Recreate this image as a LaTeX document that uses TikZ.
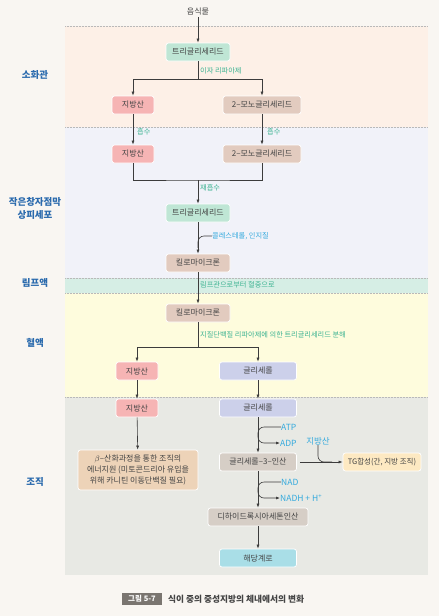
\documentclass[tikz,border=0pt]{standalone}
\usepackage{fontspec}
\setmainfont{Noto Sans CJK KR}
\usetikzlibrary{arrows.meta}
\definecolor{bg}{HTML}{F9F6F2}
\definecolor{bandA}{HTML}{FDF0E7}
\definecolor{bandB}{HTML}{F1F2F9}
\definecolor{bandC}{HTML}{D6EEE5}
\definecolor{bandD}{HTML}{FEFCDD}
\definecolor{bandE}{HTML}{E8E9E4}
\definecolor{cMint}{HTML}{BFE6D5}
\definecolor{cPink}{HTML}{F6B4B4}
\definecolor{cTan}{HTML}{E2CBBF}
\definecolor{cLav}{HTML}{CCD0EA}
\definecolor{cBeta}{HTML}{EDD3B8}
\definecolor{cGrey}{HTML}{D6CEC6}
\definecolor{cTG}{HTML}{FDE9C2}
\definecolor{cCyan}{HTML}{A9DEE7}
\definecolor{lblGreen}{HTML}{3DB392}
\definecolor{lblBlue}{HTML}{33A9DD}
\definecolor{regBlue}{HTML}{2A6AAD}
\definecolor{txt}{HTML}{444444}
\definecolor{lineC}{HTML}{3C3C3C}
\definecolor{capBox}{HTML}{7A7570}
\begin{document}
\begin{tikzpicture}[x=1pt,y=-1pt,
  box/.style={rectangle, rounded corners=2.5pt, draw=white, line width=0.7pt, minimum height=18pt, inner sep=1pt, font=\fontsize{8}{9}\selectfont, text=txt},
  lbl/.style={anchor=west, inner sep=0pt, font=\fontsize{7.2}{8}\selectfont, text=lblGreen},
  blbl/.style={anchor=west, inner sep=0pt, font=\fontsize{8.5}{10}\selectfont, text=lblBlue},
  reg/.style={inner sep=0pt, align=center, font=\fontsize{9.5}{13}\selectfont\bfseries, text=regBlue},
  conn/.style={draw=lineC, line width=0.6pt},
  arr/.style={conn, -{Latex[length=4pt,width=3pt]}},
  sep/.style={draw=gray!55, line width=0.5pt, densely dotted}
]
\useasboundingbox (0,0) rectangle (439,616);
\fill[bg] (0,0) rectangle (439,616);
% bands
\fill[bandA] (65,26) rectangle (428,127);
\fill[bandB] (65,127) rectangle (428,278);
\fill[bandC] (65,278) rectangle (428,293);
\fill[bandD] (65,293) rectangle (428,397);
\fill[bandE] (65,397) rectangle (428,575);
\foreach \yy in {26,127,278,293,397} \draw[sep] (65,\yy) -- (428,\yy);
% region labels
\node[reg] (rA) at (35,75) {소화관};
\node[reg] (rB) at (35,208) {작은창자점막\\상피세포};
\node[reg] (rC) at (35,283) {림프액};
\node[reg] (rD) at (35,343) {혈액};
\node[reg] (rE) at (35,482) {조직};
% nodes
\node[inner sep=1pt, font=\fontsize{8}{9}\selectfont, text=txt] (food) at (198,12) {음식물};
\node[box, fill=cMint, minimum width=64pt] (tg1) at (198,52) {트리글리세리드};
\node[box, fill=cPink, minimum width=42pt] (fa1) at (133,105) {지방산};
\node[box, fill=cTan, minimum width=78pt] (mg1) at (262,105) {2–모노글리세리드};
\node[box, fill=cPink, minimum width=42pt] (fa2) at (133,154) {지방산};
\node[box, fill=cTan, minimum width=78pt] (mg2) at (262,154) {2–모노글리세리드};
\node[box, fill=cMint, minimum width=64pt] (tg2) at (198,213) {트리글리세리드};
\node[box, fill=cTan, minimum width=64pt] (cm1) at (198,263) {킬로마이크론};
\node[box, fill=cTan, minimum width=64pt] (cm2) at (198,313) {킬로마이크론};
\node[box, fill=cPink, minimum width=42pt] (fa3) at (137,371) {지방산};
\node[box, fill=cLav, minimum width=77pt] (gl1) at (258,371) {글리세롤};
\node[box, fill=cPink, minimum width=42pt] (fa4) at (137,408) {지방산};
\node[box, fill=cLav, minimum width=77pt] (gl2) at (258,408) {글리세롤};
\node[box, fill=cBeta, minimum width=120pt, minimum height=40pt, align=center, font=\fontsize{8}{11}\selectfont] (beta) at (138,470) {$\beta$–산화과정을 통한 조직의\\에너지원 (미토콘드리아 유입을\\위해 카니틴 이동단백질 필요)};
\node[box, fill=cGrey, minimum width=77pt] (g3p) at (258,462) {글리세롤–3–인산};
\node[box, fill=cTG, minimum width=78pt, font=\fontsize{7.5}{9}\selectfont] (tgs) at (382,462) {TG합성(간, 지방 조직)};
\node[box, fill=cGrey, minimum width=100pt] (dhap) at (258,517) {디하이드록시아세톤인산};
\node[box, fill=cCyan, minimum width=77pt] (gly) at (258,558) {해당계로};
% labels
\node[lbl] (l1) at (200,71) {이자 리파아제};
\node[lbl] (l2) at (137,132) {흡수};
\node[lbl] (l3) at (267,132) {흡수};
\node[lbl] (l4) at (200,188) {재흡수};
\node[lbl, text=lblBlue] (l5) at (212,236) {콜레스테롤, 인지질};
\node[lbl] (l6) at (200,285) {림프관으로부터 혈중으로};
\node[lbl] (l7) at (200,335) {지질단백질 리파아제에 의한 트리글리세리드 분해};
\node[blbl] (atp) at (281,427) {ATP};
\node[blbl] (adp) at (280,443) {ADP};
\node[blbl, anchor=center] (faB) at (318,441) {지방산};
\node[blbl] (nad) at (281,482) {NAD};
\node[blbl] (nadh) at (280,498) {NADH + H\textsuperscript{+}};
% coordinates
\coordinate (b1) at (198,79);
\coordinate (j1) at (198,180);
\coordinate (b2) at (198,347);
% connectors
\draw[arr] (food) -- (tg1);
\draw[conn] (tg1.south) -- (b1);
\draw[arr] (b1) -| (fa1.north);
\draw[arr] (b1) -| (mg1.north);
\draw[arr] (fa1) -- (fa2);
\draw[arr] (mg1) -- (mg2);
\draw[conn] (fa2.south) |- (j1) -| (mg2.south);
\draw[arr] (j1) -- (tg2.north);
\draw[arr] (tg2) -- (cm1);
\draw[conn, rounded corners=6pt] (l5.west) -- ++(-14,0) -- ++(0,12);
\draw[arr] (cm1) -- (cm2);
\draw[conn] (cm2.south) -- (b2);
\draw[arr] (b2) -| (fa3.north);
\draw[arr] (b2) -| (gl1.north);
\draw[arr] (fa3) -- (fa4);
\draw[arr] (gl1) -- (gl2);
\draw[arr] (fa4) -- (beta);
\draw[arr] (gl2) -- (g3p);
\draw[arr, rounded corners=6pt] (atp.west) -- ++(-23,0) |- (adp.west);
\draw[arr, shorten <=3pt] (g3p) -- (tgs);
\draw[conn, rounded corners=6pt] (faB.south) -- (318,462) -- (332,462);
\draw[arr] (g3p) -- (dhap);
\draw[arr, rounded corners=6pt] (nad.west) -- ++(-23,0) |- (nadh.west);
\draw[arr] (dhap) -- (gly);
% caption
\node[fill=capBox, text=white, font=\fontsize{7.5}{9}\selectfont\bfseries, minimum width=40pt, minimum height=12pt, inner sep=0pt] (capn) at (142,599) {그림 5-7};
\node[anchor=west, inner sep=0pt, font=\fontsize{8.7}{10}\selectfont\bfseries, text=txt] (capt) at (168,599) {식이 중의 중성지방의 체내에서의 변화};
\end{tikzpicture}
\end{document}
